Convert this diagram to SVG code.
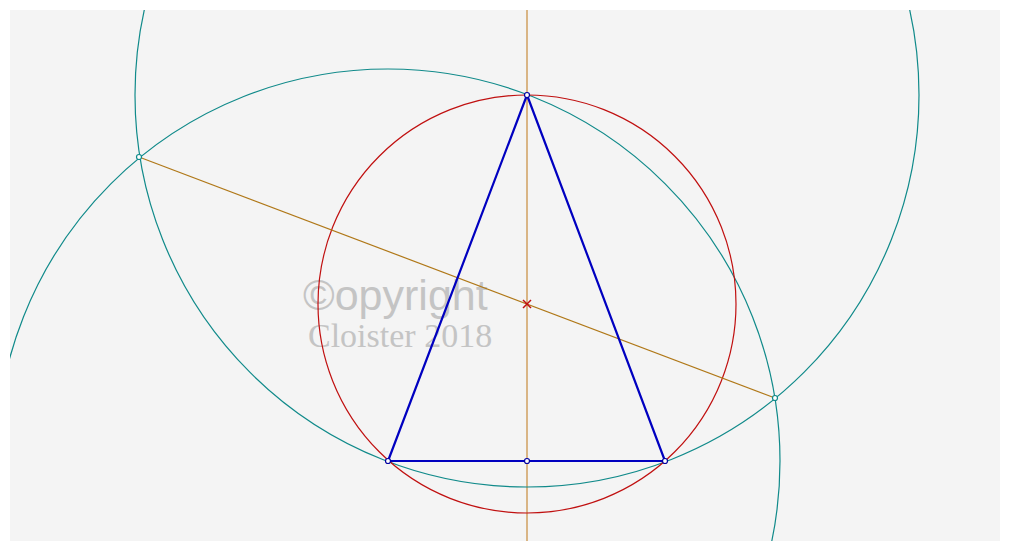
<svg xmlns="http://www.w3.org/2000/svg" width="1010" height="551" viewBox="0 0 1010 551">
<style>
.teal{fill:none;stroke:#108a8a;stroke-width:1.2}
.red{fill:none;stroke:#c01010;stroke-width:1.2}
.tri{fill:none;stroke:#0000c0;stroke-width:2.2;stroke-linejoin:round}
.pt{fill:#ffffff;stroke:#0000a0;stroke-width:1.2}
.ptt{fill:#ffffff;stroke:#108a8a;stroke-width:1.2}
</style>
<defs><clipPath id="c"><rect x="10" y="10" width="990" height="531"/></clipPath></defs>
<rect x="0" y="0" width="1010" height="551" fill="#ffffff"/>
<rect x="10" y="10" width="990" height="531" fill="#f4f4f4"/>
<g id="watermark" fill="#c4c4c4">
<text x="303" y="310" font-family="Liberation Sans, Arial, sans-serif" font-size="43">©opyright</text>
<text x="308" y="347" font-family="Liberation Serif, Times New Roman, serif" font-size="34">Cloister 2018</text>
</g>
<g id="connectors" clip-path="url(#c)">
<line x1="527" y1="10" x2="527" y2="541" stroke="#d0a060" stroke-width="1.5"/>
<circle class="teal" cx="527" cy="95" r="392"/>
<circle class="teal" cx="388" cy="461" r="392"/>
<circle class="red" cx="527" cy="304" r="209"/>
<line x1="139" y1="157" x2="775" y2="398" stroke="#b07818" stroke-width="1.2"/>
<polygon class="tri" points="527,95 388,461 665,461"/>
<path d="M523,300 L531,308 M531,300 L523,308" stroke="#c01010" stroke-width="1.5"/>
</g>
<g id="points">
<circle id="A" class="pt" cx="527" cy="95" r="2.5"/>
<circle id="B" class="pt" cx="388" cy="461" r="2.5"/>
<circle id="C" class="pt" cx="665" cy="461" r="2.5"/>
<circle id="M" class="pt" cx="527" cy="461" r="2.5"/>
<circle id="P" class="ptt" cx="139" cy="157" r="2.5"/>
<circle id="Q" class="ptt" cx="775" cy="398" r="2.5"/>
</g>
</svg>
